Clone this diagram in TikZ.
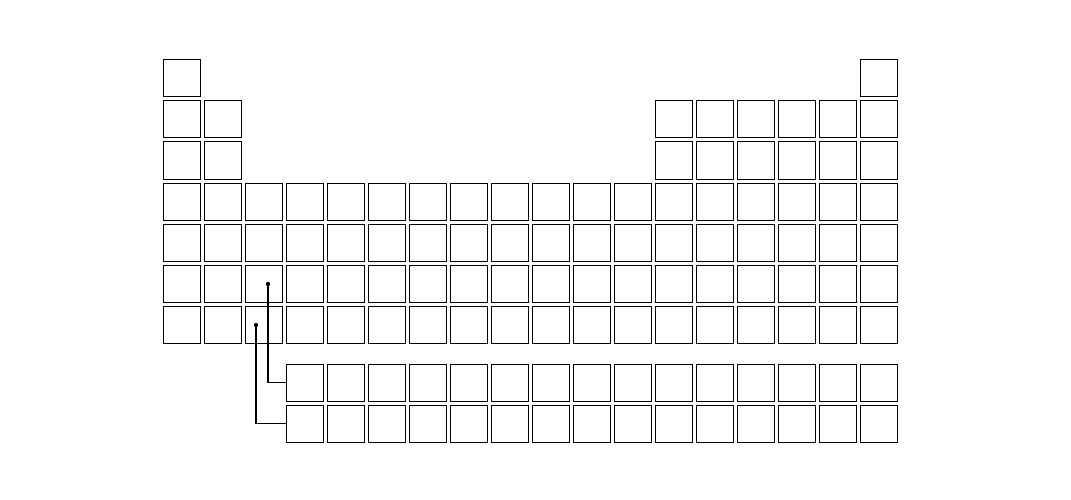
\documentclass[tikz,border=0pt]{standalone}
\usetikzlibrary{calc}
\begin{document}
\begin{tikzpicture}[x=1pt, y=-1pt, >=stealth] %1 单位 = 1 像素
            \tikzset{cell/.style={draw, line width=1pt, minimum size=37pt, inner sep=0pt, outer sep=0pt}}
            \useasboundingbox (0,0) rectangle (1071,500);
            \foreach \c in {1,18} \node[cell] (c-1-\c) at ({181.5+41*(\c-1)},78.5) {}; %第一周期
            \foreach \r in {2,3} \foreach \c in {1,2,13,14,15,16,17,18}
                \node[cell] (c-\r-\c) at ({181.5+41*(\c-1)},{78.5+41*(\r-1)}) {}; %第二、三周期
            \foreach \r in {4,...,7} \foreach \c in {1,...,18}
                \node[cell] (c-\r-\c) at ({181.5+41*(\c-1)},{78.5+41*(\r-1)}) {}; %第四至七周期
            \foreach \i in {1,...,15} {
                \node[cell] (la-\i) at ({181.5+41*(\i+2)},382.5) {}; %镧系
                \node[cell] (ac-\i) at ({181.5+41*(\i+2)},423.5) {}; %锕系
            }
            \coordinate (la-dot) at ($(c-6-3.center)+(4.5,0.5)$);
            \coordinate (ac-dot) at ($(c-7-3.center)+(-7.5,0.5)$);
            \draw[line width=1.5pt] (la-dot) |- (la-1.west); %引出镧系
            \draw[line width=1.5pt] (ac-dot) |- (ac-1.west); %引出锕系
            \fill (la-dot) circle [radius=2.2pt];
            \fill (ac-dot) circle [radius=2.2pt];
        \end{tikzpicture}
\end{document}
